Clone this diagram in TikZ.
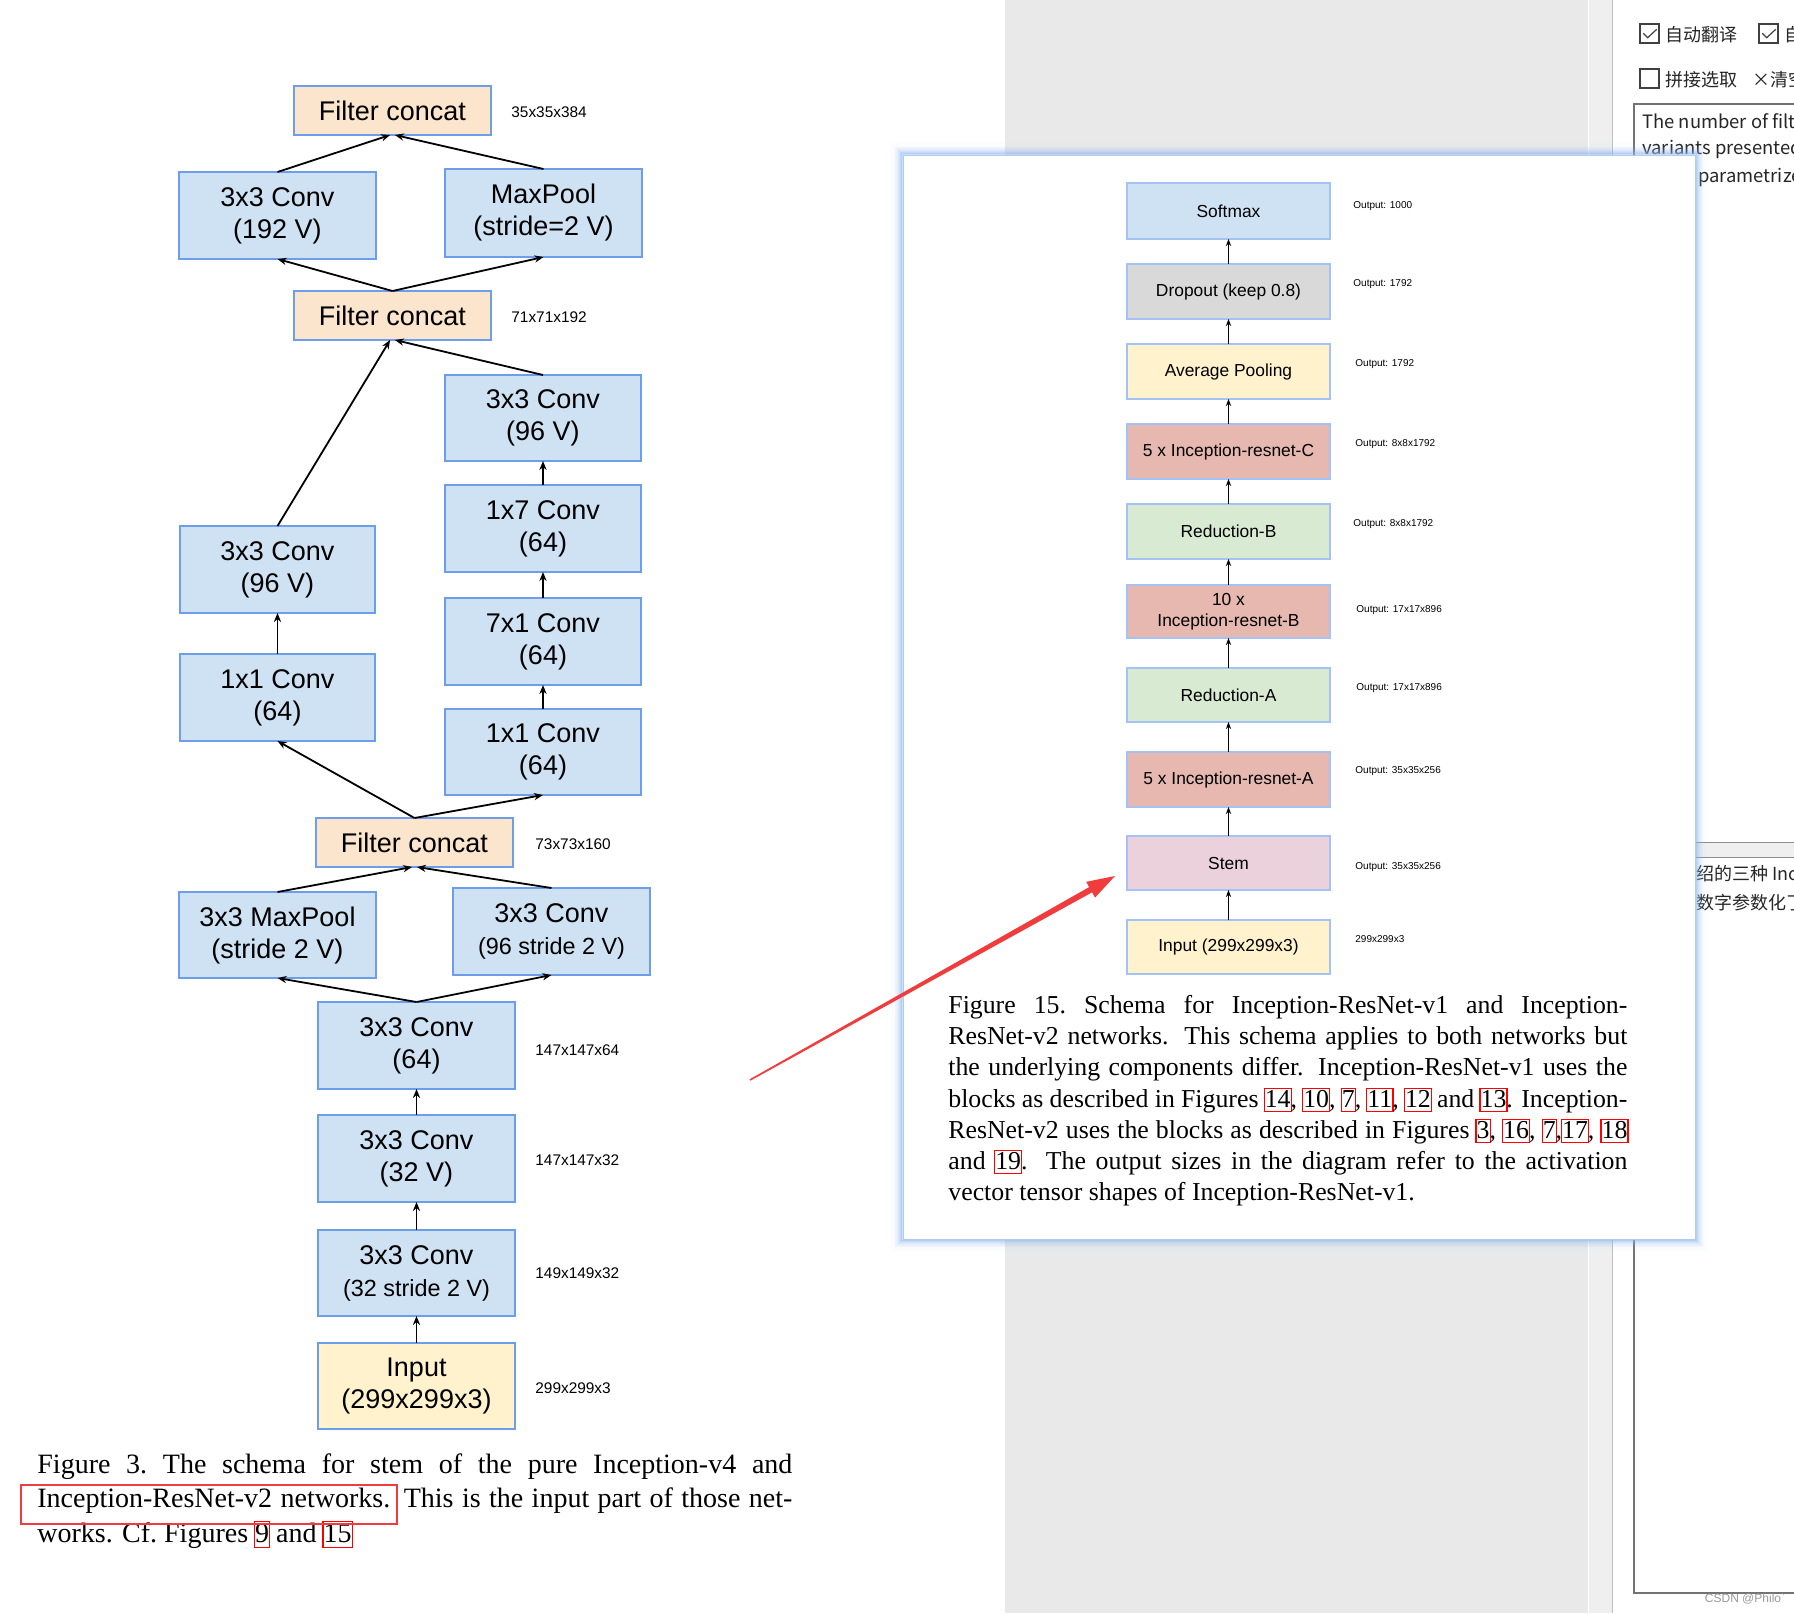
\documentclass[tikz,border=0pt]{standalone}
\usepackage{fontspec}
\setmainfont{Liberation Serif}
\newfontfamily\arial{Liberation Sans}
\newfontfamily\cjk{Noto Sans CJK SC}
\usetikzlibrary{arrows.meta}
\definecolor{cbl}{HTML}{CFE2F3}
\definecolor{cbd}{HTML}{6D9EEB}
\definecolor{cbdb}{HTML}{A4C2F4}
\definecolor{cfc}{HTML}{FCE5CD}
\definecolor{cyl}{HTML}{FFF2CC}
\definecolor{cgr}{HTML}{D9D9D9}
\definecolor{crd}{HTML}{E6B8AF}
\definecolor{cgn}{HTML}{D9EAD3}
\definecolor{cpk}{HTML}{EAD1DC}
\definecolor{bggray}{HTML}{E9E9E9}
\definecolor{bglt}{HTML}{EFEFEF}
\definecolor{glow}{HTML}{8DB6EE}
\definecolor{arrred}{HTML}{F03C3C}
\newcommand\mybox[7]{\node[#6,anchor=north west,minimum width={(#4-#2)*0.5pt},minimum height={(#5-#3)*0.5pt}] (#1) at (#2,#3) {#7};}
\newcommand\lnk[1]{{\setlength\fboxsep{0pt}\setlength\fboxrule{0.6pt}\kern-0.6pt\textcolor{red}{\fbox{\textcolor{black}{\rule[-0.16em]{0pt}{0.86em}#1}}}\kern-0.6pt}}
\newcommand\jline[2]{\makebox[#1][s]{#2}}
\begin{document}
\begin{tikzpicture}[x=0.5pt,y=-0.5pt,
  lbox/.style={draw=cbd, line width=1pt, fill=cbl, inner sep=0pt, outer sep=0pt, align=center, font=\arial\fontsize{13.5}{16}\selectfont},
  fcbox/.style={lbox, fill=cfc},
  inbox/.style={lbox, fill=cyl},
  rbox/.style={draw=cbdb, line width=0.9pt, inner sep=0pt, outer sep=0pt, align=center, font=\arial\fontsize{8.7}{10.3}\selectfont},
  dimlbl/.style={anchor=west, inner sep=0pt, font=\arial\fontsize{7.7}{9}\selectfont},
  outlbl/.style={anchor=west, inner sep=0pt, font=\arial\fontsize{5}{6}\selectfont},
  larr/.style={-{Stealth[length=4.5pt,width=3.6pt]}, line width=0.9pt},
  rarr/.style={-{Stealth[length=3.5pt,width=2.6pt]}, line width=0.5pt},
  ui/.style={anchor=base west, inner sep=0pt, font=\cjk\fontsize{9}{11}\selectfont, text=black!85},
  chk/.style={draw=black!75, line width=0.6pt, minimum size=9.5pt, inner sep=0pt},
  capR/.style={anchor=base west, inner sep=0pt, font=\fontsize{12.9}{15}\selectfont},
  capL/.style={anchor=base west, inner sep=0pt, font=\fontsize{14}{17}\selectfont}
]
\useasboundingbox (0,0) rectangle (1794,1613);
\clip (0,0) rectangle (1794,1613);
% backgrounds
\fill[white] (0,0) rectangle (1794,1613);
\fill[bggray] (1005,0) rectangle (1588,1613);
\fill[bglt] (1589,0) rectangle (1612,1613);
\draw[white, line width=0.5pt] (1588.5,0) -- (1588.5,1613);
\draw[black!25, line width=0.5pt] (1612.5,0) -- (1612.5,1613);
% right UI
\node[chk] (cb1) at (1649.5,33.5) {};
\draw[black!75, line width=0.6pt] ([shift={(-6.2,-0.2)}]cb1.center) -- ([shift={(-1.8,4.2)}]cb1.center) -- ([shift={(7.2,-4.2)}]cb1.center);
\node[ui] (t1) at (1665,41) {自动翻译};
\node[chk] (cb2) at (1768.5,33.5) {};
\draw[black!75, line width=0.6pt] ([shift={(-6.2,-0.2)}]cb2.center) -- ([shift={(-1.8,4.2)}]cb2.center) -- ([shift={(7.2,-4.2)}]cb2.center);
\node[ui] (t2) at (1784,41) {自动};
\node[chk] (cb3) at (1649.5,78.5) {};
\node[ui] (t3) at (1665,86) {拼接选取};
\node[ui] (t4) at (1752,86) {×清空};
\draw[black!55, line width=0.6pt] (1800,104) -- (1634,104) -- (1634,1593) -- (1800,1593);
\fill[bglt] (1634,842) rectangle (1800,857);
\draw[black!45, line width=0.5pt] (1634,842) -- (1800,842);
\draw[black!45, line width=0.5pt] (1634,857) -- (1800,857);
\node[ui, font=\cjk\fontsize{9.2}{11}\selectfont] (u1) at (1642,128) {The number of filters};
\node[ui, font=\cjk\fontsize{9.2}{11}\selectfont] (u2) at (1642,154) {variants presented};
\node[ui, font=\cjk\fontsize{9.2}{11}\selectfont] (u3) at (1698,182) {parametrized};
\node[ui] (u4) at (1696,880) {绍的三种 Inception};
\node[ui] (u5) at (1696,909) {数字参数化了};
\node[anchor=center, inner sep=0pt, font=\arial\fontsize{6}{7}\selectfont, text=black!40] (wm) at (1745,1599) {CSDN @Philo`};
% panel with glow
\foreach \d/\o in {1/0.45,2/0.34,3/0.26,4/0.19,5/0.14,6/0.1,7/0.07,8/0.05,10/0.03,12/0.015}
  \draw[glow, opacity=\o, line width=1pt] (903-\d,155-\d) rectangle (1695+\d,1239+\d);
\node[fill=white, draw=glow!70, line width=0.5pt, anchor=north west, inner sep=0pt, minimum width=396pt, minimum height=542pt] (panel) at (903,155) {};
% right diagram
\mybox{soft}{1127}{183}{1330}{239}{rbox,fill=cbl}{Softmax}
\mybox{drop}{1127}{264}{1330}{319}{rbox,fill=cgr}{Dropout (keep 0.8)}
\mybox{avg}{1127}{344}{1330}{399}{rbox,fill=cyl}{Average Pooling}
\mybox{incC}{1127}{424}{1330}{479}{rbox,fill=crd}{5 x Inception-resnet-C}
\mybox{redB}{1127}{504}{1330}{559}{rbox,fill=cgn}{Reduction-B}
\mybox{incB}{1127}{585}{1330}{638}{rbox,fill=crd}{10 x\\Inception-resnet-B}
\mybox{redA}{1127}{668}{1330}{722}{rbox,fill=cgn}{Reduction-A}
\mybox{incA}{1127}{752}{1330}{807}{rbox,fill=crd}{5 x Inception-resnet-A}
\mybox{stem}{1127}{836}{1330}{890}{rbox,fill=cpk}{Stem}
\mybox{inpR}{1127}{920}{1330}{974}{rbox,fill=cyl}{Input (299x299x3)}
\draw[rarr] (drop.north) -- (soft.south);
\draw[rarr] (avg.north) -- (drop.south);
\draw[rarr] (incC.north) -- (avg.south);
\draw[rarr] (redB.north) -- (incC.south);
\draw[rarr] (incB.north) -- (redB.south);
\draw[rarr] (redA.north) -- (incB.south);
\draw[rarr] (incA.north) -- (redA.south);
\draw[rarr] (stem.north) -- (incA.south);
\draw[rarr] (inpR.north) -- (stem.south);
\node[outlbl] (o1) at (1353,206) {Output: 1000};
\node[outlbl] (o2) at (1353,284) {Output: 1792};
\node[outlbl] (o3) at (1355,364) {Output: 1792};
\node[outlbl] (o4) at (1355,444) {Output: 8x8x1792};
\node[outlbl] (o5) at (1353,524) {Output: 8x8x1792};
\node[outlbl] (o6) at (1356,610) {Output: 17x17x896};
\node[outlbl] (o7) at (1356,688) {Output: 17x17x896};
\node[outlbl] (o8) at (1355,771) {Output: 35x35x256};
\node[outlbl] (o9) at (1355,867) {Output: 35x35x256};
\node[outlbl] (o10) at (1355,939) {299x299x3};
% right caption
\node[capR] (r1) at (948,1013) {\jline{339.5pt}{Figure 15.\ Schema for Inception-ResNet-v1 and Inception-}};
\node[capR] (r2) at (948,1044) {\jline{339.5pt}{ResNet-v2 networks. This schema applies to both networks but}};
\node[capR] (r3) at (948,1075) {\jline{339.5pt}{the underlying components differ. Inception-ResNet-v1 uses the}};
\node[capR] (r4) at (948,1107) {\jline{339.5pt}{blocks as described in Figures \lnk{14}, \lnk{10}, \lnk{7}, \lnk{11}, \lnk{12} and \lnk{13}. Inception-}};
\node[capR] (r5) at (948,1138) {\jline{339.5pt}{ResNet-v2 uses the blocks as described in Figures \lnk{3}, \lnk{16}, \lnk{7},\lnk{17}, \lnk{18}}};
\node[capR] (r6) at (948,1169) {\jline{339.5pt}{and \lnk{19}. The output sizes in the diagram refer to the activation}};
\node[capR] (r7) at (948,1200) {vector tensor shapes of Inception-ResNet-v1.};
% left diagram
\mybox{fcA}{294}{86}{491}{135}{fcbox}{Filter concat}
\mybox{c192}{179}{172}{376}{259}{lbox}{3x3 Conv\\(192 V)}
\mybox{mp2}{445}{169}{642}{257}{lbox}{MaxPool\\(stride=2 V)}
\mybox{fcB}{294}{291}{491}{340}{fcbox}{Filter concat}
\mybox{r96}{445}{375}{641}{461}{lbox}{3x3 Conv\\(96 V)}
\mybox{r17}{445}{485}{641}{572}{lbox}{1x7 Conv\\(64)}
\mybox{r71}{445}{598}{641}{685}{lbox}{7x1 Conv\\(64)}
\mybox{r11}{445}{709}{641}{795}{lbox}{1x1 Conv\\(64)}
\mybox{l96}{180}{526}{375}{613}{lbox}{3x3 Conv\\(96 V)}
\mybox{l11}{180}{654}{375}{741}{lbox}{1x1 Conv\\(64)}
\mybox{fcC}{316}{818}{513}{867}{fcbox}{Filter concat}
\mybox{mp3}{179}{892}{376}{978}{lbox}{3x3 MaxPool\\(stride 2 V)}
\mybox{c96s}{453}{888}{650}{975}{lbox}{3x3 Conv\\{\fontsize{11.7}{16}\selectfont(96 stride 2 V)}}
\mybox{c64}{318}{1002}{515}{1089}{lbox}{3x3 Conv\\(64)}
\mybox{c32}{318}{1115}{515}{1202}{lbox}{3x3 Conv\\(32 V)}
\mybox{c32s}{318}{1230}{515}{1316}{lbox}{3x3 Conv\\{\fontsize{11.7}{16}\selectfont(32 stride 2 V)}}
\mybox{inpL}{318}{1343}{515}{1429}{inbox}{Input\\(299x299x3)}
\draw[larr] (c192.north) -- ([xshift=-1.2pt]fcA.south);
\draw[larr] (mp2.north) -- ([xshift=1.2pt]fcA.south);
\draw[larr] (fcB.north) -- (c192.south);
\draw[larr] (fcB.north) -- (mp2.south);
\draw[larr] (l96.north) -- ([xshift=-1.2pt]fcB.south);
\draw[larr] (r96.north) -- ([xshift=1.2pt]fcB.south);
\draw[larr] (r17.north) -- (r96.south);
\draw[larr] (r71.north) -- (r17.south);
\draw[larr] (r11.north) -- (r71.south);
\draw[larr] (l11.north) -- (l96.south);
\draw[larr] (fcC.north) -- (l11.south);
\draw[larr] (fcC.north) -- (r11.south);
\draw[larr] (mp3.north) -- ([xshift=-1.2pt]fcC.south);
\draw[larr] (c96s.north) -- ([xshift=1.2pt]fcC.south);
\draw[larr] (c64.north) -- (mp3.south);
\draw[larr] (c64.north) -- (c96s.south);
\draw[larr] (c32.north) -- (c64.south);
\draw[larr] (c32s.north) -- (c32.south);
\draw[larr] (inpL.north) -- (c32s.south);
\node[dimlbl] (d1) at (511,112) {35x35x384};
\node[dimlbl] (d2) at (511,317) {71x71x192};
\node[dimlbl] (d3) at (535,844) {73x73x160};
\node[dimlbl] (d4) at (535,1050) {147x147x64};
\node[dimlbl] (d5) at (535,1160) {147x147x32};
\node[dimlbl] (d6) at (535,1273) {149x149x32};
\node[dimlbl] (d7) at (535,1388) {299x299x3};
% left caption
\node[capL] (l1) at (37,1473) {\jline{377.5pt}{Figure 3.\ The schema for stem of the pure Inception-v4 and}};
\node[capL] (l2) at (37,1507) {\jline{377.5pt}{Inception-ResNet-v2 networks. This is the input part of those net-}};
\node[capL] (l3) at (37,1542) {works. Cf.\ Figures \lnk{9} and \lnk{15}};
\draw[arrred, line width=1.25pt] (21,1485) rectangle (397,1524);
% red arrow
\coordinate (tail) at (750,1080);
\coordinate (tip) at (1115,876);
\fill[arrred] (750.4,1080.7) -- (1092.1,892.3) -- (1095.0,897.6) -- (tip) -- (1086.2,881.8) -- (1089.1,887.1) -- (749.6,1079.3) -- cycle;
\end{tikzpicture}
\end{document}
